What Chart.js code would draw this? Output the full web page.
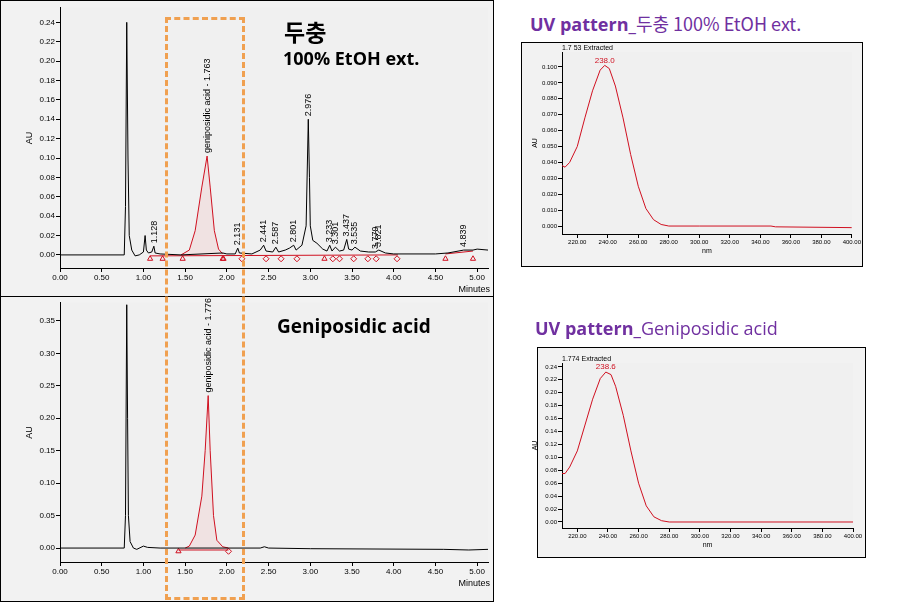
<!DOCTYPE html>
<html><head><meta charset="utf-8">
<script src="https://cdn.jsdelivr.net/npm/chart.js@4"></script>
<style>
body{margin:0;background:#fff;font-family:"Liberation Sans",Arial,sans-serif;}
.p{position:absolute;}
canvas{position:absolute;}
.t{position:absolute;white-space:nowrap;}
</style></head><body>
<div class="p" style="left:0;top:0;width:492px;height:295px;border:1px solid #000;background:#f2f2f2"></div>
<div class="p" style="left:0;top:296px;width:492px;height:304px;border:1px solid #000;background:#f2f2f2"></div>
<div class="p" style="left:521px;top:42px;width:340px;height:223px;border:1px solid #000;background:#f2f2f2"></div>
<div class="p" style="left:537px;top:347px;width:327px;height:209px;border:1px solid #000;background:#f2f2f2"></div>
<canvas id="c1" width="493" height="294" style="left:0;top:2px"></canvas>
<canvas id="c2" width="493" height="303" style="left:0;top:297px"></canvas>
<canvas id="c3" width="341" height="224" style="left:521px;top:42px"></canvas>
<canvas id="c4" width="334" height="210" style="left:530px;top:347px"></canvas>
<div class="p" style="left:165px;top:17px;width:74px;height:577px;border:3px dashed #f0a050"></div>
<div class="t" style="left:284px;top:14px;font:bold 23px 'Noto Sans CJK KR'">두충</div>
<div class="t" style="left:283px;top:46px;font:bold 18px 'Open Sans'">100% EtOH ext.</div>
<div class="t" style="left:277px;top:313px;font:bold 19px 'Open Sans'">Geniposidic acid</div>
<div class="t" style="left:530px;top:10px;color:#7030a0;font:18px 'Noto Sans CJK KR'"><b style="font-family:'Open Sans'">UV pattern_</b>두충 100% EtOH ext.</div>
<div class="t" style="left:535px;top:316px;color:#7030a0;font:18px 'Open Sans'"><b>UV pattern_</b>Geniposidic acid</div>
<script>
// ---- data ----
const topBlack=[[0,0],[0.77,0],[0.785,0.05],[0.80,0.24],[0.815,0.10],[0.83,0.02],[0.86,0.005],[0.90,-0.001],[0.95,0],[1.0,0.003],[1.02,0.02],[1.035,0.005],[1.06,0.002],[1.10,0.003],[1.125,0.009],[1.14,0.002],[1.2,0.001],[1.45,0],[1.95,0.002],[2.0,0.001],[2.10,0.001],[2.131,0.007],[2.15,0.002],[2.3,0.001],[2.4,0.005],[2.441,0.01],[2.47,0.004],[2.55,0.003],[2.587,0.008],[2.62,0.003],[2.7,0.005],[2.75,0.007],[2.801,0.01],[2.83,0.005],[2.9,0.01],[2.95,0.03],[2.976,0.14],[2.99,0.08],[3.0,0.03],[3.03,0.015],[3.08,0.012],[3.15,0.006],[3.2,0.004],[3.233,0.01],[3.26,0.004],[3.301,0.008],[3.35,0.004],[3.40,0.005],[3.437,0.016],[3.46,0.006],[3.5,0.005],[3.535,0.008],[3.6,0.004],[3.7,0.003],[3.779,0.003],[3.821,0.005],[3.9,0.002],[4.0,0.001],[4.5,0.001],[4.65,0.002],[4.839,0.005],[4.95,0.005],[5.0,0.006],[5.13,0.005]];
const topRed=[[1.45,0],[1.55,0.005],[1.62,0.025],[1.70,0.07],[1.763,0.102],[1.80,0.07],[1.85,0.025],[1.90,0.006],[1.95,0.001]];
const topBase=[[1.08,-0.001],[4.05,0],[null,null],[4.62,0.001],[4.95,0.004]];
const topTri=[1.08,1.23,1.47,1.95,1.96,3.17,4.62,4.95];
const topDia=[2.18,2.47,2.65,2.84,3.27,3.35,3.52,3.69,3.79,4.04];
const topLabels=[[1.128,0.009,"1.128"],[1.763,0.102,"geniposidic acid - 1.763"],[2.131,0.007,"2.131"],[2.441,0.01,"2.441"],[2.587,0.008,"2.587"],[2.801,0.01,"2.801"],[2.976,0.14,"2.976"],[3.233,0.01,"3.233"],[3.301,0.008,"3.301"],[3.437,0.016,"3.437"],[3.535,0.008,"3.535"],[3.779,0.003,"3.779"],[3.821,0.005,"3.821"],[4.839,0.005,"4.839"]];
const botBlack=[[0,0],[0.77,0],[0.785,0.05],[0.80,0.375],[0.81,0.2],[0.82,0.05],[0.84,0.01],[0.88,0],[0.92,-0.002],[1.0,0.003],[1.05,0.001],[1.2,0],[1.5,0],[2.02,0],[2.4,0],[2.45,0.002],[2.5,0],[3.0,-0.001],[4.6,-0.002],[4.9,-0.003],[5.13,-0.002]];
const botRed=[[1.5,0],[1.55,0.003],[1.62,0.02],[1.70,0.08],[1.74,0.15],[1.776,0.235],[1.80,0.15],[1.84,0.05],[1.88,0.012],[1.95,0.002],[2.02,0]];
const botBase=[[1.42,-0.003],[2.02,-0.003]];
const botTri=[1.42];
const botDia=[2.02];
const botLabels=[[1.776,0.235,"geniposidic acid - 1.776"]];
const uv1=[[210,0.038],[212,0.037],[215,0.040],[220,0.050],[225,0.068],[230,0.085],[235,0.098],[238,0.101],[241,0.099],[245,0.088],[250,0.068],[255,0.045],[260,0.025],[265,0.011],[270,0.004],[275,0.001],[280,0],[300,0],[347,0],[350,-0.0005],[400,-0.001]];
const uv2=[[210,0.075],[212,0.075],[215,0.085],[220,0.11],[225,0.15],[230,0.19],[235,0.222],[238.6,0.232],[242,0.228],[245,0.21],[250,0.165],[255,0.11],[260,0.06],[265,0.025],[270,0.008],[275,0.002],[280,0],[400,0]];
const minuteTicks=[0,0.5,1,1.5,2,2.5,3,3.5,4,4.5,5];
const yTicksTop=[0,0.02,0.04,0.06,0.08,0.10,0.12,0.14,0.16,0.18,0.20,0.22,0.24];
const yTicksBot=[0,0.05,0.10,0.15,0.20,0.25,0.30,0.35];
const nmTicks=[220,240,260,280,300,320,340,360,380,400];
const uvTicks1=[0,0.01,0.02,0.03,0.04,0.05,0.06,0.07,0.08,0.09,0.10];
const uvTicks2=[0,0.02,0.04,0.06,0.08,0.10,0.12,0.14,0.16,0.18,0.20,0.22,0.24];
// ---- helpers ----
Chart.defaults.font.family="'Liberation Sans',Arial,sans-serif";
Chart.defaults.color="#000";
const pts=a=>a.map(p=>({x:p[0],y:p[1]}));
const bgPlugin={id:'bg',beforeDraw(c){const a=c.chartArea,x=c.ctx;x.save();x.fillStyle='#f0f0f0';x.fillRect(a.left,a.top,a.right-a.left,a.bottom-a.top);x.restore();}};
function textPlugin(items){return{id:'txt',afterDraw(c){const x=c.ctx;x.save();items(c,x);x.restore();}};}
function axis(min,max,ticks,fmt,size,dim,fs){return{type:'linear',min,max,
 afterBuildTicks:s=>{s.ticks=ticks.map(v=>({value:v}));},
 afterFit:s=>{if(dim==='w')s.width=size;else s.height=size;},
 grid:{drawOnChartArea:false,drawTicks:true,tickLength:4,color:'#000'},
 border:{color:'#000',width:1},
 ticks:{font:{size:fs},padding:1,maxRotation:0,autoSkip:false,callback:v=>v.toFixed(fmt)}};}
function make(id,datasets,xs,ys,pad,plugins){
 new Chart(document.getElementById(id),{type:'line',data:{datasets},
 options:{responsive:false,animation:false,devicePixelRatio:1,layout:{padding:pad},
 plugins:{legend:{display:false},tooltip:{enabled:false}},
 elements:{point:{radius:0},line:{borderWidth:1,tension:0}},
 scales:{x:xs,y:ys}},plugins:[bgPlugin,...plugins]});}
function markers(arr,y,style){return{data:arr.map(v=>({x:v,y})),showLine:false,pointStyle:style,pointRadius:3,borderColor:'#d01020',backgroundColor:'rgba(0,0,0,0)',borderWidth:1};}
function vlabels(list){return textPlugin((c,x)=>{const xs=c.scales.x,ys=c.scales.y;x.font="9px 'Liberation Sans'";x.fillStyle='#000';x.textBaseline='middle';x.textAlign='left';
 list.forEach(l=>{x.save();x.translate(xs.getPixelForValue(l[0]),ys.getPixelForValue(l[1])-3);x.rotate(-Math.PI/2);x.fillText(l[2],0,0);x.restore();});
 x.font="9px 'Liberation Sans'";x.textAlign='right';x.textBaseline='top';x.fillText('Minutes',c.chartArea.right+2,c.chartArea.bottom+17);
 x.save();x.translate(30,(c.chartArea.top+c.chartArea.bottom)/2);x.rotate(-Math.PI/2);x.textAlign='center';x.textBaseline='middle';x.fillText('AU',0,0);x.restore();});}
function uvText(title,peak,py){return textPlugin((c,x)=>{const a=c.chartArea;x.font="7px 'Liberation Sans'";x.fillStyle='#000';x.textAlign='left';x.textBaseline='bottom';x.fillText(title,a.left,a.top);
 x.fillStyle='#d01020';x.font="8px 'Liberation Sans'";x.textAlign='center';x.fillText(peak.toFixed(1),c.scales.x.getPixelForValue(peak),c.scales.y.getPixelForValue(py)-1);
 x.fillStyle='#000';x.font="7px 'Liberation Sans'";x.textBaseline='top';x.fillText('nm',(a.left+a.right)/2,a.bottom+14);
 x.save();x.translate(a.left-27,(a.top+a.bottom)/2);x.rotate(-Math.PI/2);x.textBaseline='middle';x.fillText('AU',0,0);x.restore();});}
const black='#000',red='#d01020';
make('c1',[
 {data:pts(topBlack),borderColor:black},
 {data:pts(topRed),borderColor:red,fill:'origin',backgroundColor:'rgba(240,150,150,0.15)'},
 {data:pts(topBase),borderColor:red,spanGaps:false},
 markers(topTri,-0.004,'triangle'),markers(topDia,-0.004,'rectRot')],
 axis(0,5.13,minuteTicks,2,28,'h',8),axis(-0.0135,0.255,yTicksTop,2,60,'w',8),
 {left:0,top:4,right:2,bottom:0},[vlabels(topLabels)]);
make('c2',[
 {data:pts(botBlack),borderColor:black},
 {data:pts(botRed),borderColor:red,fill:'origin',backgroundColor:'rgba(240,150,150,0.15)'},
 {data:pts(botBase),borderColor:red},
 markers(botTri,-0.005,'triangle'),markers(botDia,-0.005,'rectRot')],
 axis(0,5.13,minuteTicks,2,38,'h',8),axis(-0.0215,0.378,yTicksBot,2,60,'w',8),
 {left:0,top:5,right:2,bottom:0},[vlabels(botLabels)]);
make('c3',[{data:pts(uv1),borderColor:red}],
 axis(210,400,nmTicks,2,32,'h',6),axis(-0.005,0.1094,uvTicks1,3,41,'w',6),
 {left:0,top:10,right:10,bottom:0},[uvText('1.7 53 Extracted',238,0.101)]);
make('c4',[{data:pts(uv2),borderColor:red}],
 axis(210,400,nmTicks,2,29,'h',6),axis(-0.0093,0.246,uvTicks2,2,32,'w',6),
 {left:0,top:16,right:11,bottom:0},[uvText('1.774 Extracted',238.6,0.232)]);
</script></body></html>
